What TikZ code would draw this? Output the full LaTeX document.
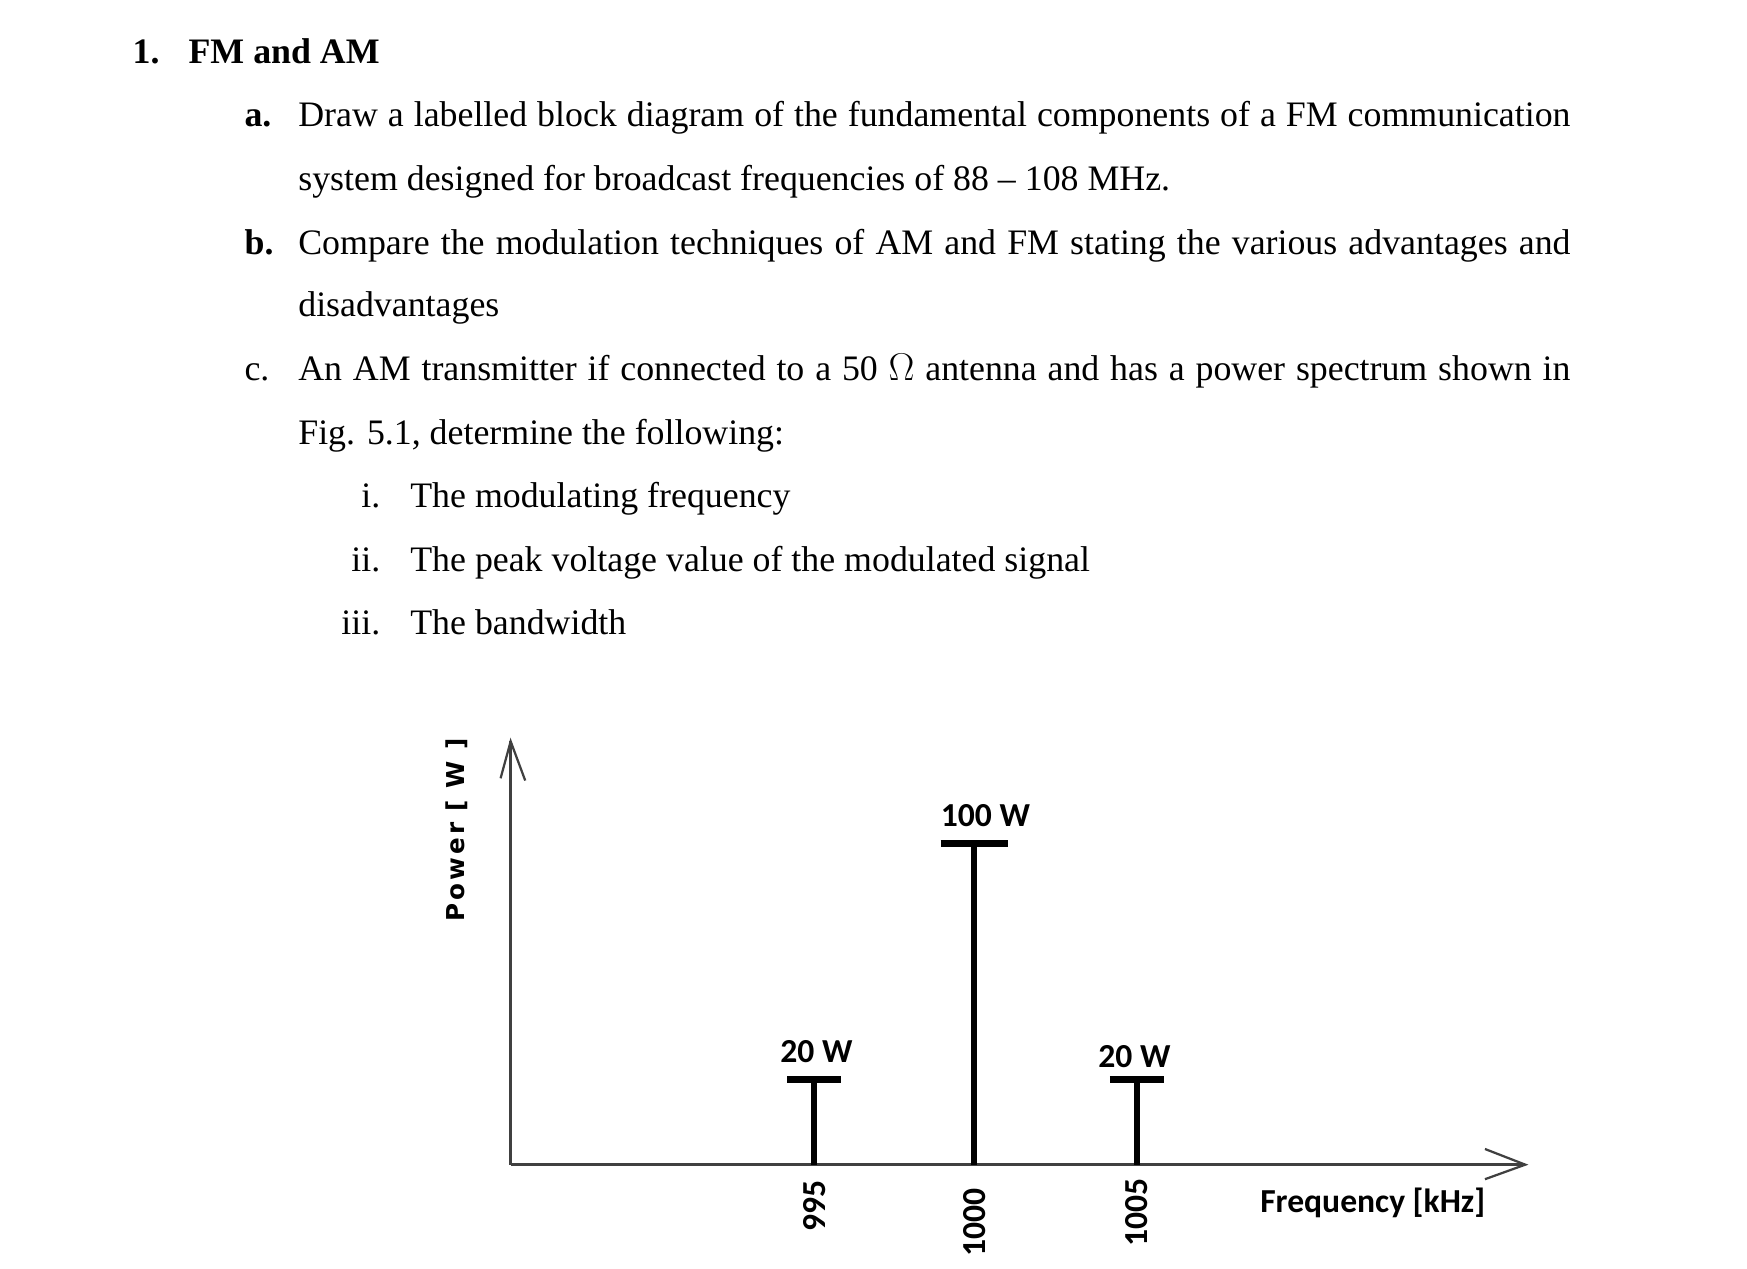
\documentclass[tikz,border=0pt]{standalone}
\usepackage{fontspec}
\setmainfont{Liberation Serif}
\newfontfamily\carlitofont{Carlito}
\newfontfamily\dvsfont[LetterSpace=12]{DejaVu Sans}
\begin{document}
\begin{tikzpicture}[x=0.5pt,y=-0.5pt,
  txt/.style={anchor=base west,inner sep=0pt,font=\fontsize{16}{19}\selectfont},
  num/.style={anchor=base east,inner sep=0pt,font=\fontsize{16}{19}\selectfont},
  lab/.style={inner sep=0pt,font=\carlitofont\bfseries\fontsize{15}{18}\selectfont},
  ax/.style={line width=1.6pt,draw=black!75},
  stembar/.style={line width=2.6pt},
  capbar/.style={line width=3.2pt}]
\useasboundingbox (0,0) rectangle (1560,1133);
\node[txt] (h1) at (118,57) {\textbf{1.}};
\node[txt] (h2) at (168,57) {\textbf{FM and AM}};
\node[txt] (a) at (218,113) {\textbf{a.}};
\node[txt] (a1) at (266,113) {\makebox[568pt][s]{Draw a labelled block diagram of the fundamental components of a FM communication}};
\node[txt] (a2) at (266,170) {system designed for broadcast frequencies of 88 -- 108 MHz.};
\node[txt] (b) at (218,227) {\textbf{b.}};
\node[txt] (b1) at (266,227) {\makebox[568pt][s]{Compare the modulation techniques of AM and FM stating the various advantages and}};
\node[txt] (b2) at (266,283) {disadvantages};
\node[txt] (c) at (218,340) {c.};
\node[txt] (c1) at (266,340) {\makebox[568pt][s]{An AM transmitter if connected to a 50 $\Omega$ antenna and has a power spectrum shown in}};
\node[txt] (c2) at (266,397) {Fig. 5.1, determine the following:};
\node[num] (i) at (340,453) {i.};
\node[txt] (i1) at (366,453) {The modulating frequency};
\node[num] (ii) at (340,510) {ii.};
\node[txt] (ii1) at (366,510) {The peak voltage value of the modulated signal};
\node[num] (iii) at (340,567) {iii.};
\node[txt] (iii1) at (366,567) {The bandwidth};
% chart
\coordinate (o) at (456,1040);
\coordinate (yt) at (456,662);
\coordinate (xt) at (1362,1040);
\draw[ax] (o) -- (yt);
\draw[ax] (o) -- (xt);
\draw[line width=1pt,draw=black!75] (447,695) -- (yt) -- (469,697);
\draw[line width=1pt,draw=black!75] (1326,1026) -- (xt) -- (1326,1053);
\foreach \n/\x/\t/\w in {s1/727/964/24, c0/870/753/30, s2/1015/964/24}{
  \coordinate (\n b) at (\x,1040);
  \coordinate (\n t) at (\x,\t);
  \draw[stembar] (\n b) -- (\n t);
  \draw[capbar] (\x-\w,\t) -- (\x+\w,\t);
}
\node[lab,anchor=base] (l1) at (729,949) {20 W};
\node[lab,anchor=base] (l2) at (880,738) {100 W};
\node[lab,anchor=base] (l3) at (1013,953) {20 W};
\node[lab,rotate=90] (t1) at (727,1077) {995};
\node[lab,rotate=90] (t2) at (870,1092) {1000};
\node[lab,rotate=90] (t3) at (1015,1083) {1005};
\node[lab,anchor=base west] (fx) at (1125,1083) {Frequency [kHz]};
\node[inner sep=0pt,rotate=90,font=\dvsfont\bfseries\fontsize{11}{13}\selectfont] (py) at (408,741) {Power [ W ]};
\end{tikzpicture}
\end{document}
